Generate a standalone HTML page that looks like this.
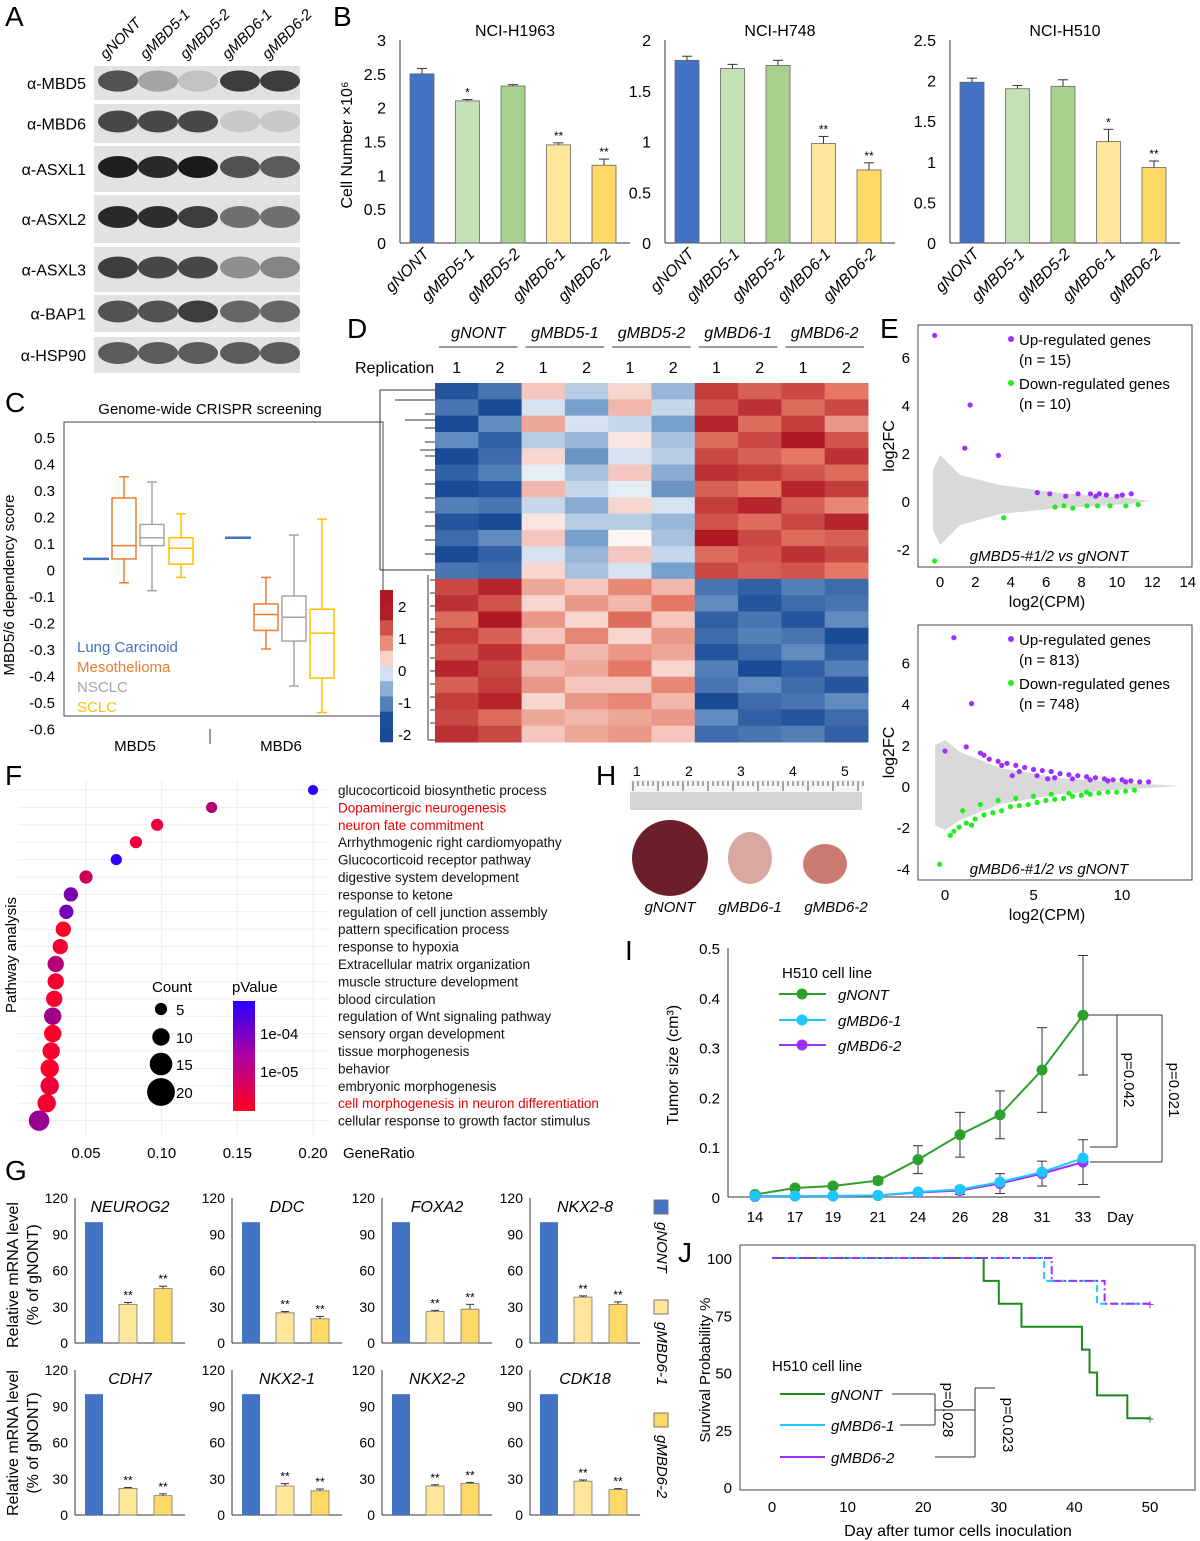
<!DOCTYPE html>
<html><head><meta charset="utf-8"><style>
html,body{margin:0;padding:0;background:#fff;}
svg{display:block;font-family:"Liberation Sans",sans-serif;}
</style></head><body>
<svg id="fig" width="1200" height="1541" viewBox="0 0 1200 1541" xmlns="http://www.w3.org/2000/svg"></svg>
<script>
// ---------- DATA ----------
const blotRows=['α-MBD5','α-MBD6','α-ASXL1','α-ASXL2','α-ASXL3','α-BAP1','α-HSP90'];
const blotLanes=['gNONT','gMBD5-1','gMBD5-2','gMBD6-1','gMBD6-2'];
const blotIntensity=[[0.7,0.3,0.15,0.8,0.8],[0.75,0.75,0.75,0.12,0.12],[0.95,0.9,0.97,0.7,0.65],[0.9,0.88,0.8,0.55,0.55],[0.8,0.75,0.75,0.4,0.45],[0.7,0.7,0.8,0.6,0.6],[0.65,0.65,0.65,0.65,0.65]];
const bGroups=['gNONT','gMBD5-1','gMBD5-2','gMBD6-1','gMBD6-2'];
const bTitles=['NCI-H1963','NCI-H748','NCI-H510'];
const bMax=[3,2,2.5];
const bTicks=[[0,0.5,1,1.5,2,2.5,3],[0,0.5,1,1.5,2],[0,0.5,1,1.5,2,2.5]];
const bValsH1963=[2.5,2.1,2.32,1.45,1.15];
const bValsH748=[1.8,1.72,1.75,0.98,0.72];
const bValsH510=[1.98,1.9,1.93,1.25,0.93];
const bErr=[[0.08,0.02,0.02,0.03,0.09],[0.04,0.04,0.05,0.07,0.07],[0.05,0.04,0.08,0.15,0.08]];
const bStars=[['','*','','**','**'],['','','','**','**'],['','','','*','**']];
const cGroups=['Lung Carcinoid','Mesothelioma','NSCLC','SCLC'];
const cMBD5=[[0.04,0.04,0.04,0.04,0.04],[-0.05,0.04,0.09,0.27,0.35],[-0.08,0.09,0.12,0.17,0.33],[-0.03,0.02,0.08,0.12,0.21]];
const cMBD6=[[0.12,0.12,0.12,0.12,0.12],[-0.3,-0.23,-0.17,-0.13,-0.03],[-0.44,-0.27,-0.18,-0.1,0.13],[-0.54,-0.41,-0.24,-0.15,0.19]];
const hmCols=['gNONT 1','gNONT 2','gMBD5-1 1','gMBD5-1 2','gMBD5-2 1','gMBD5-2 2','gMBD6-1 1','gMBD6-1 2','gMBD6-2 1','gMBD6-2 2'];
const hmVals=[
[-1.5,-1.2,0.3,-0.4,0.2,-0.6,1.3,1.0,1.2,0.8],
[-1.2,-1.6,-0.2,-0.8,0.4,-0.3,1.1,1.4,0.9,1.2],
[-1.8,-1.0,0.5,-0.2,-0.3,-0.8,1.5,0.9,1.3,0.6],
[-1.0,-1.4,-0.4,-0.6,0.1,-0.5,0.9,1.2,1.6,1.1],
[-1.6,-1.3,0.2,-0.9,-0.2,-0.4,1.2,1.0,0.8,1.4],
[-1.4,-1.1,-0.1,-0.5,0.3,-0.7,1.4,1.3,1.1,0.9],
[-1.9,-1.5,0.4,-0.3,-0.1,-0.9,1.0,0.8,1.5,1.3],
[-1.1,-1.2,-0.3,-0.7,0.2,-0.2,1.3,1.5,1.0,0.7],
[-1.5,-1.7,0.1,-0.4,-0.4,-0.6,1.1,0.9,1.2,1.5],
[-1.3,-1.0,0.3,-0.8,0.0,-0.5,1.6,1.2,0.9,1.0],
[-1.7,-1.4,-0.2,-0.6,0.3,-0.3,0.9,1.1,1.4,1.2],
[-1.2,-1.3,0.2,-0.5,-0.2,-0.8,1.2,1.0,1.1,0.8],
[1.2,1.5,0.5,0.3,0.7,0.4,-1.2,-1.4,-1.1,-1.3],
[1.4,1.1,0.2,0.6,0.4,0.8,-1.0,-1.5,-1.3,-1.2],
[0.9,1.6,0.6,0.2,0.9,0.3,-1.4,-1.2,-1.5,-1.0],
[1.3,1.0,0.3,0.7,0.2,0.6,-1.3,-1.1,-1.2,-1.6],
[1.1,1.4,0.7,0.4,0.6,0.5,-1.5,-1.3,-1.0,-1.4],
[1.5,1.2,0.4,0.5,0.8,0.2,-1.1,-1.6,-1.4,-1.1],
[1.0,1.3,0.6,0.3,0.3,0.7,-1.2,-1.0,-1.3,-1.5],
[1.3,1.5,0.2,0.6,0.7,0.4,-1.6,-1.3,-1.2,-1.0],
[1.2,0.9,0.5,0.4,0.5,0.6,-1.0,-1.4,-1.5,-1.3],
[1.4,1.2,0.3,0.5,0.6,0.3,-1.3,-1.2,-1.1,-1.4]];
const e1UpX=[-0.3,1.7,1.4,3.3,7.8,8.5,9.0,10.0,10.8,8.8,9.4,6.2,5.5,7.1,10.3];
const e1UpY=[6.9,4.0,2.2,1.9,0.3,0.3,0.3,0.2,0.3,0.2,0.25,0.3,0.35,0.2,0.25];
const e1DnX=[-0.3,3.6,7.0,7.5,8.3,10.5,6.5,8.9,9.6,11.2];
const e1DnY=[-2.5,-0.7,-0.2,-0.3,-0.2,-0.2,-0.25,-0.2,-0.2,-0.15];
const e2UpX=[0.5,1.5,2,2.5,3,3.5,4,4.5,5,5.5,6,6.5,7,7.5,8,8.5,9,9.5,10,10.5,11,11.5,1.2,2.2,3.2,4.2,5.2,6.2,7.2,8.2,9.2,10.2,0,3.8,5.8];
const e2UpY=[7.2,4.0,1.6,1.3,1.2,1.1,1.0,0.9,0.8,0.75,0.7,0.6,0.55,0.5,0.45,0.4,0.35,0.3,0.3,0.25,0.2,0.2,1.9,1.5,1.0,0.7,0.5,0.4,0.35,0.3,0.25,0.2,1.7,0.5,0.35];
const e2DnX=[-0.3,0.3,0.8,1.2,1.7,2.2,2.7,3.2,3.7,4.2,4.7,5.2,5.7,6.2,6.7,7.2,7.7,8.2,8.7,9.2,9.7,10.2,10.7,1.0,2.0,3.0,4.0,5.0,6.0,7.0,8.0,0.5,1.5];
const e2DnY=[-3.8,-2.4,-2.0,-1.8,-1.6,-1.4,-1.3,-1.2,-1.0,-0.95,-0.9,-0.8,-0.7,-0.65,-0.6,-0.5,-0.45,-0.4,-0.35,-0.3,-0.3,-0.25,-0.2,-1.2,-0.9,-0.7,-0.6,-0.5,-0.4,-0.35,-0.3,-2.2,-1.9];
const fTerms=['glucocorticoid biosynthetic process','Dopaminergic neurogenesis','neuron fate commitment','Arrhythmogenic right cardiomyopathy','Glucocorticoid receptor pathway','digestive system development','response to ketone','regulation of cell junction assembly','pattern specification process','response to hypoxia','Extracellular matrix organization','muscle structure development','blood circulation','regulation of Wnt signaling pathway','sensory organ development','tissue morphogenesis','behavior','embryonic morphogenesis','cell morphogenesis in neuron differentiation','cellular response to growth factor stimulus'];
const fRatio=[0.20,0.133,0.097,0.083,0.07,0.05,0.04,0.037,0.035,0.033,0.03,0.03,0.029,0.028,0.028,0.027,0.026,0.026,0.024,0.019];
const fCount=[3,4,5,5,4,6,7,7,8,8,9,9,9,10,10,10,11,11,11,13];
const fLogP=[-3.5,-5.0,-5.6,-5.6,-3.6,-5.3,-4.4,-4.3,-5.8,-5.7,-5.0,-5.7,-5.7,-4.8,-5.8,-5.7,-5.8,-5.6,-5.7,-4.7];
const fRed=[false,true,true,false,false,false,false,false,false,false,false,false,false,false,false,false,false,false,true,false];
const gGenes=['NEUROG2','DDC','FOXA2','NKX2-8','CDH7','NKX2-1','NKX2-2','CDK18'];
const gNONTvals=[100,100,100,100,100,100,100,100];
const gMBD61vals=[32,25,26,38,22,24,24,28];
const gMBD62vals=[45,20,28,32,16,20,26,21];
const gErr1=[1.5,1,1,1,0.8,2,1,1];
const gErr2=[2,2,4,2,1.5,1.5,1,0.8];
const iDays=[14,17,19,21,24,26,28,31,33];
const iNONT=[0.005,0.018,0.022,0.033,0.075,0.125,0.165,0.255,0.365];
const iNONTerr=[0.003,0.005,0.005,0.007,0.028,0.045,0.048,0.085,0.12];
const iM1=[0.002,0.002,0.002,0.003,0.01,0.015,0.03,0.05,0.078];
const iM2=[0.001,0.002,0.002,0.003,0.009,0.013,0.027,0.047,0.07];
const iMerr=[0.002,0.002,0.002,0.003,0.005,0.008,0.02,0.025,0.045];
const jNONTt=[0,28,30,33,41,42,43,47,50];
const jNONTs=[100,90,80,70,60,50,40,30,30];
const jM1t=[0,36,43,50];
const jM1s=[100,90,80,80];
const jM2t=[0,37,44,50];
const jM2s=[100,90,80,80];

// ---------- HELPERS ----------
const NS='http://www.w3.org/2000/svg';
const svg=document.getElementById('fig');
function E(tag,a,p){const e=document.createElementNS(NS,tag);for(const k in a)e.setAttribute(k,a[k]);(p||svg).appendChild(e);return e;}
function T(x,y,s,name,a){a=a||{};a.x=x;a.y=y;if(!a['font-size'])a['font-size']=15;const e=E('text',a);e.textContent=s;


return e;}
function L(x1,y1,x2,y2,name,st){const e=E('line',Object.assign({x1:x1,y1:y1,x2:x2,y2:y2,stroke:'#333','stroke-width':1},st||{}));


return e;}
function panel(x,y,s){T(x,y,s,'panel-label-'+s,{'font-size':28});}

// ---------- A ----------
panel(5,26,'A');
const laneX=[118,158,198,240,280];
const rowY=[[66,100],[104,143],[146,192],[195,243],[247,292],[295,332],[337,373]];
blotLanes.forEach((l,i)=>{T(laneX[i]-12,60,l,'lane-label',{transform:`rotate(-45 ${laneX[i]-12} 60)`,'font-style':'italic'});});
blotRows.forEach((r,ri)=>{
  const [y0,y1]=rowY[ri];
  const bg=E('rect',{x:94,y:y0,width:206,height:y1-y0,fill:'#e2e2e2'});
  
  
  T(86,(y0+y1)/2+6,r,'blot-row-label',{'text-anchor':'end','font-size':16});
  blotIntensity[ri].forEach((v,li)=>{
    const g=Math.round(225-205*v);
    const b=E('ellipse',{cx:laneX[li],cy:(y0+y1)/2-2,rx:20,ry:Math.min(11,(y1-y0)/3.2),fill:`rgb(${g},${g},${g})`});
    
    
  });
});

// ---------- B ----------
panel(333,26,'B');
const bAxisX=[400,665,950];
const bColors=['#4472c4','#c5e0b4','#a9d18e','#ffe699','#ffd966'];
const bAll=[bValsH1963,bValsH748,bValsH510];
const bY0=243,bYtop=40;
bAll.forEach((vals,ci)=>{
  const ax=bAxisX[ci];const ys=v=>bY0-(v/bMax[ci])*(bY0-bYtop);
  L(ax,bYtop,ax,bY0,'b-y-axis');
  L(ax,bY0,ax+230,bY0,'b-x-axis');
  bTicks[ci].forEach(t=>T(ax-14,ys(t)+6,String(t),'b-tick',{'text-anchor':'end','font-size':16}));
  T(ax+115,36,bTitles[ci],'b-title',{'text-anchor':'middle','font-size':16});
  vals.forEach((v,i)=>{
    const cx=ax+22+i*45.5;
    const r=E('rect',{x:cx-12,y:ys(v),width:24,height:bY0-ys(v),fill:bColors[i],stroke:'#666','stroke-width':0.8});
    
    
    L(cx,ys(v+bErr[ci][i]),cx,ys(v),'error-bar');
    L(cx-5,ys(v+bErr[ci][i]),cx+5,ys(v+bErr[ci][i]),'error-cap');
    if(bStars[ci][i])T(cx,ys(v+bErr[ci][i])-3,bStars[ci][i],'significance',{'text-anchor':'middle','font-size':12});
    T(cx+8,255,bGroups[i],'b-group-label',{transform:`rotate(-45 ${cx+8} 255)`,'text-anchor':'end','font-size':16,'font-style':'italic'});
  });
});
T(352,145,'Cell Number ×10⁶','b-y-title',{transform:'rotate(-90 352 145)','text-anchor':'middle','font-size':16});

// ---------- C ----------
panel(5,412,'C');
const cr=E('rect',{x:64,y:422,width:319,height:294,fill:'none',stroke:'#444'});

const cy=v=>569.5-v*265;
[0.5,0.4,0.3,0.2,0.1,0,-0.1,-0.2,-0.3,-0.4,-0.5,-0.6].forEach(t=>T(55,cy(t)+6,String(t),'c-tick',{'text-anchor':'end','font-size':15}));
T(210,414,'Genome-wide CRISPR screening','c-title',{'text-anchor':'middle','font-size':15});
T(14,585,'MBD5/6 dependency score','c-y-title',{transform:'rotate(-90 14 585)','text-anchor':'middle','font-size':15});
T(135,751,'MBD5','c-x-label',{'text-anchor':'middle'});
T(281,751,'MBD6','c-x-label',{'text-anchor':'middle'});
L(210,729,210,744,'c-divider');
const cCol=['#4472c4','#ed7d31','#a5a5a5','#ffc000'];
[[cMBD5,[96,124,152,181]],[cMBD6,[238,266,294,322]]].forEach(([stats,xs])=>{
  stats.forEach((s,i)=>{
    const x=xs[i];
    if(s[0]===s[4]){L(x-13,cy(s[2]),x+13,cy(s[2]),'box-single',{stroke:cCol[i],'stroke-width':2.5});return;}
    L(x,cy(s[0]),x,cy(s[1]),'whisker',{stroke:cCol[i],'stroke-width':1.5});
    L(x,cy(s[3]),x,cy(s[4]),'whisker',{stroke:cCol[i],'stroke-width':1.5});
    L(x-5,cy(s[0]),x+5,cy(s[0]),'whisker-cap',{stroke:cCol[i],'stroke-width':1.5});
    L(x-5,cy(s[4]),x+5,cy(s[4]),'whisker-cap',{stroke:cCol[i],'stroke-width':1.5});
    const b=E('rect',{x:x-12,y:cy(s[3]),width:24,height:cy(s[1])-cy(s[3]),fill:'#fff',stroke:cCol[i],'stroke-width':1.5});
    
    
    L(x-12,cy(s[2]),x+12,cy(s[2]),'median',{stroke:cCol[i],'stroke-width':1.5});
  });
});
cGroups.forEach((g,i)=>T(77,652+i*20,g,'legend-entry',{fill:cCol[i],'font-size':15}));

// ---------- D ----------
panel(347,338,'D');
const hx0=435,hx1=868,hy0=383,hy1=742;
const cw=(hx1-hx0)/10,rh=(hy1-hy0)/hmVals.length;
['gNONT','gMBD5-1','gMBD5-2','gMBD6-1','gMBD6-2'].forEach((g,i)=>{
  T(hx0+cw*(2*i+1),338,g,'d-group-label',{'text-anchor':'middle','font-size':16,'font-style':'italic'});
  L(hx0+cw*2*i+4,347,hx0+cw*2*(i+1)-4,347,'d-group-line');
  T(hx0+cw*(2*i+0.5),373,'1','d-rep',{'text-anchor':'middle','font-size':16});
  T(hx0+cw*(2*i+1.5),373,'2','d-rep',{'text-anchor':'middle','font-size':16});
});
T(355,373,'Replication','d-rep-title',{'font-size':16});
function mix(a,b,t){return a.map((c,i)=>Math.round(c+(b[i]-c)*t));}
function hcol(v){const t=Math.max(-1,Math.min(1,v/1.6));
  if(t>=0){const c=t<0.5?mix([253,245,242],[228,120,100],t*2):mix([228,120,100],[175,25,35],(t-0.5)*2);return `rgb(${c.join(',')})`;}
  const s=-t;const c=s<0.5?mix([245,248,252],[120,160,205],s*2):mix([120,160,205],[25,75,150],(s-0.5)*2);return `rgb(${c.join(',')})`;}
hmVals.forEach((row,ri)=>row.forEach((v,ci)=>{
  const r=E('rect',{x:hx0+ci*cw,y:hy0+ri*rh,width:cw+0.5,height:rh+0.5,fill:hcol(v)});
  
  
}));
L(380,390,380,570,'dendrogram');L(380,390,435,390,'dendrogram');L(395,400,435,400,'dendrogram');
L(405,420,435,420,'dendrogram');L(420,450,435,450,'dendrogram');L(380,570,435,570,'dendrogram');
L(428,575,428,740,'dendrogram');L(428,740,435,740,'dendrogram');
for(let k=0;k<12;k++){L(425,400+k*14,435,400+k*14,'dendrogram');L(430,580+k*13,435,580+k*13,'dendrogram');}
[2,1,0,-1,-2].forEach((v,i)=>T(398,612+i*32,String(v),'colorbar-tick',{'font-size':15}));
for(let k=0;k<10;k++){const v=2-k*4/9;const r=E('rect',{x:380,y:590+k*15.2,width:13,height:15.5,fill:hcol(v)});

}

// ---------- E ----------
panel(880,338,'E');
function maPlot(fx,fy,fw,fh,xs,ys,xt,yt,upX,upY,dnX,dnY,upN,dnN,lab,cloud){
  const f=E('rect',{x:fx,y:fy,width:fw,height:fh,fill:'none',stroke:'#444'});
  
  
  xt.forEach(t=>T(xs(t),fy+fh+20,String(t),'ma-x-tick',{'text-anchor':'middle'}));
  yt.forEach(t=>T(fx-8,ys(t)+6,String(t),'ma-y-tick',{'text-anchor':'end'}));
  const c=E('path',{d:cloud,fill:'#d9d9d9'});
  
  
  upX.forEach((x,i)=>{const p=E('circle',{cx:xs(x),cy:ys(upY[i]),r:2.6,fill:'#9b30ff'});
    
    });
  dnX.forEach((x,i)=>{const p=E('circle',{cx:xs(x),cy:ys(dnY[i]),r:2.6,fill:'#22ee22'});
    
    });
  E('circle',{cx:1011,cy:fy+14,r:3,fill:'#9b30ff'});
  T(1019,fy+20,'Up-regulated genes','legend-up');
  T(1019,fy+40,'(n = '+upN+')','legend-up-n');
  E('circle',{cx:1011,cy:fy+58,r:3,fill:'#22ee22'});
  T(1019,fy+64,'Down-regulated genes','legend-down');
  T(1019,fy+84,'(n = '+dnN+')','legend-down-n');
  T(fx+fw/2-6,fy+fh-6,lab,'ma-comparison',{'text-anchor':'middle','font-style':'italic'});
  T(fx+fw/2-8,fy+fh+40,'log2(CPM)','ma-x-title',{'text-anchor':'middle','font-size':16});
  T(fx-24,fy+fh/2,'log2FC','ma-y-title',{transform:`rotate(-90 ${fx-24} ${fy+fh/2})`,'text-anchor':'middle','font-size':16});
}
const e1x=v=>940+v*17.7,e1y=v=>501-v*24;
maPlot(918,325,274,242,e1x,e1y,[0,2,4,6,8,10,12,14],[6,4,2,0,-2],e1UpX,e1UpY,e1DnX,e1DnY,15,10,'gMBD5-#1/2 vs gNONT',
 `M933 470 L940 455 L960 475 L1000 485 L1060 493 L1130 498 L1150 501 L1130 504 L1060 508 L1000 514 L960 525 L940 545 L933 530 Z`);
const e2x=v=>945+v*17.7,e2y=v=>786-v*20.6;
maPlot(918,625,274,255,e2x,e2y,[0,5,10],[6,4,2,0,-2,-4],e2UpX,e2UpY,e2DnX,e2DnY,813,748,'gMBD6-#1/2 vs gNONT',
 `M935 745 L945 740 L960 752 L1000 768 L1060 778 L1130 783 L1180 786 L1130 789 L1060 794 L1000 804 L960 820 L945 830 L935 825 Z`);

// ---------- F ----------
panel(5,785,'F');
const fx=v=>86+(v-0.05)*(313-86)/0.15;
const fy=i=>790+i*17.4;
for(let i=0;i<20;i++)L(18,fy(i),330,fy(i),'f-grid',{stroke:'#eee'});
[0.05,0.10,0.15,0.20].forEach(t=>{L(fx(t),780,fx(t),1135,'f-grid-v',{stroke:'#eee'});T(fx(t),1158,t.toFixed(2),'f-x-tick',{'text-anchor':'middle'});});
T(343,1158,'GeneRatio','f-x-title');
T(16,955,'Pathway analysis','f-y-title',{transform:'rotate(-90 16 955)','text-anchor':'middle'});
function pcol(lp){const t=Math.max(0,Math.min(1,(lp+3.5)/(-5.8+3.5)));const r=Math.round(40+215*t),b=Math.round(255-215*t);return `rgb(${r},0,${b})`;}
fTerms.forEach((s,i)=>{
  T(338,fy(i)+5,s,'pathway-term',{'font-size':13.5,fill:fRed[i]?'#ee0000':'#111'});
  const c=E('circle',{cx:fx(fRatio[i]),cy:fy(i),r:3.5+fCount[i]*0.52,fill:pcol(fLogP[i])});
  
  
});
T(152,992,'Count','f-legend-title');
[[5,1015],[10,1043],[15,1070],[20,1098]].forEach(([n,y])=>{E('circle',{cx:161,cy:y-6,r:3.5+n*0.52,fill:'#000'});T(176,y,String(n),'f-legend-count');});
T(232,992,'pValue','f-legend-title');
const gd=E('defs',{});gd.innerHTML='<linearGradient id="pg" x1="0" y1="0" x2="0" y2="1"><stop offset="0" stop-color="#2a00ff"/><stop offset="0.5" stop-color="#b000a0"/><stop offset="1" stop-color="#ff0020"/></linearGradient>';
const pgr=E('rect',{x:233,y:1001,width:22,height:110,fill:'url(#pg)'});

T(260,1039,'1e-04','f-legend-tick');T(260,1077,'1e-05','f-legend-tick');

// ---------- H ----------
panel(596,785,'H');
const ru=E('rect',{x:630,y:780,width:232,height:30,fill:'#f6f6f6'});
const ru2=E('rect',{x:630,y:792,width:232,height:18,fill:'#d5d5d5'});
for(let k=0;k<=46;k++)L(633+k*5,781,633+k*5,781+(k%5===0?10:5),'ruler-tick',{stroke:'#555'});
[1,2,3,4,5].forEach((n,i)=>T(633+i*52,776,String(n),'ruler-number',{'font-size':14}));
[[670,858,38,38,'#6b1f28'],[750,858,22,26,'#d9a8a0'],[825,864,22,20,'#c97b72']].forEach(([x,y,rx,ry,c])=>{const t=E('ellipse',{cx:x,cy:y,rx:rx,ry:ry,fill:c});
});
T(670,912,'gNONT','tumor-label',{'text-anchor':'middle','font-style':'italic'});
T(750,912,'gMBD6-1','tumor-label',{'text-anchor':'middle','font-style':'italic'});
T(836,912,'gMBD6-2','tumor-label',{'text-anchor':'middle','font-style':'italic'});

// ---------- I ----------
panel(625,960,'I');
const dayX=[755,795,833,878,918,960,1000,1042,1083];
const iy=v=>1197-v*498;
L(728,948,728,1197,'i-y-axis');L(728,1197,1100,1197,'i-x-axis');
[0,0.1,0.2,0.3,0.4,0.5].forEach(t=>T(720,iy(t)+6,String(t),'i-y-tick',{'text-anchor':'end'}));
iDays.forEach((d,i)=>T(dayX[i],1222,String(d),'i-x-tick',{'text-anchor':'middle'}));
T(1107,1222,'Day','i-x-title');
T(678,1065,'Tumor size (cm³)','i-y-title',{transform:'rotate(-90 678 1065)','text-anchor':'middle','font-size':16});
T(782,978,'H510 cell line','i-legend-title');
function series(vals,err,col,name){
  const pts=vals.map((v,i)=>dayX[i]+','+iy(v)).join(' ');
  const pl=E('polyline',{points:pts,fill:'none',stroke:col,'stroke-width':2});
  
  
  vals.forEach((v,i)=>{
    if(err){L(dayX[i],iy(v-err[i]),dayX[i],iy(v+err[i]),'error-bar');L(dayX[i]-5,iy(v+err[i]),dayX[i]+5,iy(v+err[i]),'error-cap');L(dayX[i]-5,iy(Math.max(0,v-err[i])),dayX[i]+5,iy(Math.max(0,v-err[i])),'error-cap');}
    const c=E('circle',{cx:dayX[i],cy:iy(v),r:5.5,fill:col});
    
    
  });
}
series(iNONT,iNONTerr,'#2ca02c','gNONT');
series(iM2,iMerr,'#9b30ff','gMBD6-2');
series(iM1,null,'#1ec8ff','gMBD6-1');
[['gNONT','#2ca02c',1000],['gMBD6-1','#1ec8ff',1026],['gMBD6-2','#9b30ff',1051]].forEach(([n,c,y])=>{
  L(779,y-6,826,y-6,'legend-line',{stroke:c,'stroke-width':2});E('circle',{cx:802,cy:y-6,r:5.5,fill:c});
  T(838,y,n,'legend-entry',{'font-style':'italic'});});
L(1088,1015,1117,1015,'p-bracket');L(1117,1015,1117,1147,'p-bracket');L(1090,1147,1117,1147,'p-bracket');
L(1117,1015,1162,1015,'p-bracket');L(1162,1015,1162,1162,'p-bracket');L(1090,1162,1162,1162,'p-bracket');
T(1124,1080,'p=0.042','p-value',{transform:'rotate(90 1124 1080)','text-anchor':'middle'});
T(1169,1090,'p=0.021','p-value',{transform:'rotate(90 1169 1090)','text-anchor':'middle'});

// ---------- G ----------
panel(5,1180,'G');
const gAx=[75,232,382,530];
gGenes.forEach((g,i)=>{
  const row=Math.floor(i/4),col=i%4,ax=gAx[col];
  const y0=row?1515:1343,ytop=row?1370:1198;
  const gy=v=>y0-v/120*(y0-ytop);
  L(ax,ytop,ax,y0,'g-y-axis');L(ax,y0,ax+110,y0,'g-x-axis');
  [0,30,60,90,120].forEach(t=>T(ax-7,gy(t)+5,String(t),'g-tick',{'text-anchor':'end','font-size':14}));
  T(ax+55,ytop+14,g,'g-gene-title',{'text-anchor':'middle','font-style':'italic','font-size':16});
  [[gNONTvals[i],0,'#4472c4',10],[gMBD61vals[i],gErr1[i],'#ffe699',44],[gMBD62vals[i],gErr2[i],'#ffd966',79]].forEach(([v,e,c,o],k)=>{
    const r=E('rect',{x:ax+o,y:gy(v),width:18,height:y0-gy(v),fill:c,stroke:k?'#777':'none','stroke-width':0.8});
    
    
    if(k){L(ax+o+9,gy(v+e),ax+o+9,gy(v),'error-bar');L(ax+o+5,gy(v+e),ax+o+13,gy(v+e),'error-cap');
      T(ax+o+9,gy(v+e)-3,'**','significance',{'text-anchor':'middle','font-size':12});}
  });
});
T(18,1275,'Relative mRNA level','g-y-title',{transform:'rotate(-90 18 1275)','text-anchor':'middle','font-size':16});
T(38,1275,'(% of gNONT)','g-y-title',{transform:'rotate(-90 38 1275)','text-anchor':'middle','font-size':16});
T(18,1443,'Relative mRNA level','g-y-title',{transform:'rotate(-90 18 1443)','text-anchor':'middle','font-size':16});
T(38,1443,'(% of gNONT)','g-y-title',{transform:'rotate(-90 38 1443)','text-anchor':'middle','font-size':16});
[['gNONT','#4472c4',1200],['gMBD6-1','#ffe699',1300],['gMBD6-2','#ffd966',1413]].forEach(([n,c,y])=>{
  const r=E('rect',{x:654,y:y,width:14,height:14,fill:c,stroke:'#777'});
  
  T(657,y+22,n,'g-legend-label',{transform:`rotate(90 657 ${y+22})`,'font-style':'italic'});});

// ---------- J ----------
panel(678,1262,'J');
const jx=t=>772+t*7.56,jy=s=>1487-s*2.29;
const jf=E('rect',{x:740,y:1245,width:455,height:245,fill:'none',stroke:'#444'});

[0,10,20,30,40,50].forEach(t=>T(jx(t),1512,String(t),'j-x-tick',{'text-anchor':'middle'}));
[0,25,50,75,100].forEach(t=>T(732,jy(t)+6,String(t),'j-y-tick',{'text-anchor':'end'}));
T(958,1536,'Day after tumor cells inoculation','j-x-title',{'text-anchor':'middle','font-size':16});
T(710,1370,'Survival Probability %','j-y-title',{transform:'rotate(-90 710 1370)','text-anchor':'middle'});
function km(ts,ss,col,dash,name){
  let d=`M${jx(ts[0])} ${jy(ss[0])}`;
  for(let i=1;i<ts.length;i++){d+=` H${jx(ts[i])} V${jy(ss[i])}`;}
  const p=E('path',{d:d,fill:'none',stroke:col,'stroke-width':2,'stroke-dasharray':dash});
  
  
  T(jx(ts[ts.length-1]),jy(ss[ss.length-1])+5,'+','censor-mark',{fill:col,'text-anchor':'middle','font-size':14});
}
km(jNONTt,jNONTs,'#1a8a1a','none','gNONT');
km(jM1t,jM1s,'#1ec8ff','7,4','gMBD6-1');
km(jM2t,jM2s,'#9b30ff','8,3,2,3','gMBD6-2');
T(772,1371,'H510 cell line','j-legend-title');
[['gNONT','#1a8a1a',1400],['gMBD6-1','#1ec8ff',1431],['gMBD6-2','#9b30ff',1463]].forEach(([n,c,y])=>{
  L(780,y-6,825,y-6,'legend-line',{stroke:c,'stroke-width':2});T(831,y,n,'legend-entry',{'font-style':'italic'});});
L(892,1394,935,1394,'p-bracket');L(935,1394,935,1425,'p-bracket');L(900,1425,935,1425,'p-bracket');
L(935,1410,975,1410,'p-bracket');L(975,1388,975,1457,'p-bracket');L(935,1457,975,1457,'p-bracket');L(975,1388,995,1388,'p-bracket');
T(943,1410,'p=0.028','p-value',{transform:'rotate(90 943 1410)','text-anchor':'middle'});
T(1003,1425,'p=0.023','p-value',{transform:'rotate(90 1003 1425)','text-anchor':'middle'});
</script>
</body></html>
